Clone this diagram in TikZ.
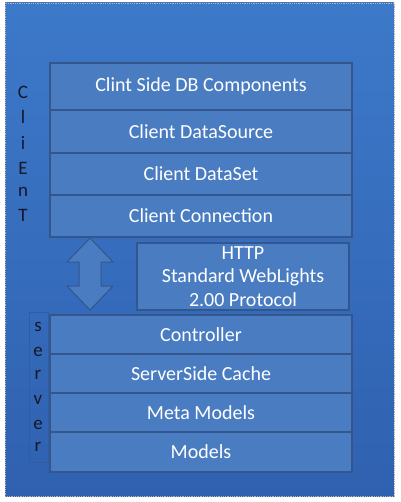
\documentclass[tikz,border=0pt]{standalone}
\usepackage{fontspec}
\setmainfont{Carlito}
\definecolor{bgtop}{HTML}{3D79C9}
\definecolor{bgbot}{HTML}{2F61B0}
\definecolor{boxfill}{HTML}{4A7CC2}
\definecolor{boxline}{HTML}{33568C}
\definecolor{lettercol}{HTML}{14182A}
\tikzset{
  layer/.style={draw=boxline, line width=1.2pt, fill=boxfill, text=white,
    minimum width=302pt, inner sep=0pt, font=\fontsize{20}{24}\selectfont},
  sideletter/.style={text=lettercol, inner sep=0pt, font=\fontsize{19}{23}\selectfont}
}
\begin{document}
\begin{tikzpicture}[x=1pt,y=-1pt]
\useasboundingbox (0,0) rectangle (400,502);
\fill[white] (0,0) rectangle (400,502);
\shade[top color=bgtop, bottom color=bgbot] (5,3) rectangle (394,496);
\draw[gray!60, densely dotted, line width=0.8pt] (5,3) rectangle (394,496);
% client layers
\node[layer, minimum height=47pt] (c1) at (201,86.5) {Clint Side DB Components};
\node[layer, minimum height=43pt] (c2) at (201,131.5) {Client DataSource};
\node[layer, minimum height=42pt] (c3) at (201,174) {Client DataSet};
\node[layer, minimum height=42pt] (c4) at (201,216) {Client Connection};
% protocol box
\node[layer, minimum width=212pt, minimum height=67pt, align=center,
  font=\fontsize{20}{23.5}\selectfont] (http) at (243,276.5) {HTTP\\Standard WebLights\\2.00 Protocol};
% double arrow
\draw[boxline, line width=1pt, fill=boxfill]
  (90,238) -- (113,262) -- (101,262) -- (101,286) -- (113,286) -- (90,310)
  -- (67,286) -- (79,286) -- (79,262) -- (67,262) -- cycle;
% server layers
\node[layer, minimum height=39pt] (s1) at (201,334.5) {Controller};
\node[layer, minimum height=39pt] (s2) at (201,373.5) {ServerSide Cache};
\node[layer, minimum height=39pt] (s3) at (201,412.5) {Meta Models};
\node[layer, minimum height=40pt] (s4) at (201,452) {Models};
% side labels
\node[sideletter] (lc1) at (23,92) {C};
\node[sideletter] (lc2) at (23,117) {l};
\node[sideletter] (lc3) at (23,143) {i};
\node[sideletter] (lc4) at (23,168) {E};
\node[sideletter] (lc5) at (23,192) {n};
\node[sideletter] (lc6) at (23,215) {T};
\draw[boxline!40!bgbot, line width=0.5pt] (29,312) rectangle (48,462);
\node[sideletter] (ls1) at (38,327) {s};
\node[sideletter] (ls2) at (38,352) {e};
\node[sideletter] (ls3) at (38,375) {r};
\node[sideletter] (ls4) at (38,400) {v};
\node[sideletter] (ls5) at (38,425) {e};
\node[sideletter] (ls6) at (38,447) {r};
\end{tikzpicture}
\end{document}
